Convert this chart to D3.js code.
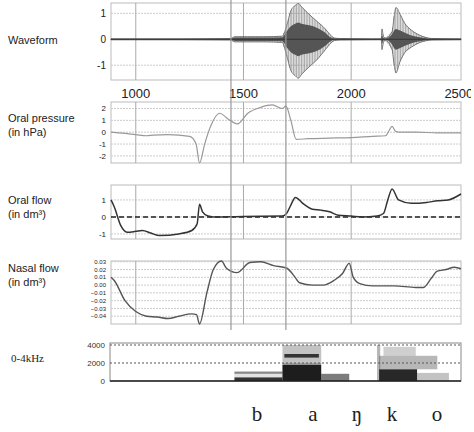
<!DOCTYPE html>
<html><head><meta charset="utf-8">
<script src="https://cdn.jsdelivr.net/npm/d3@7"></script>
<style>body{margin:0;background:#fff}svg{display:block}</style>
</head><body><svg id="c" width="474" height="432"></svg>
<script>
// time axis (ms)
const timeTicks = [1000, 1500, 2000, 2500];
const cursorTimes = [1442, 1697];

// waveform envelope: time, outer amplitude (top), outer amplitude (bottom), dense core amplitude
const waveTime  = [885,1000,1200,1440,1460,1600,1680,1700,1720,1740,1755,1770,1800,1840,1880,1900,1921,1950,2100,2140,2143,2150,2160,2190,2200,2208,2225,2250,2280,2320,2375,2510];
const waveTop   = [0.02,0.02,0.02,0.03,0.1,0.1,0.12,0.5,1.1,1.3,1.38,1.25,1.0,0.7,0.4,0.2,0.05,0.03,0.02,0.02,0.4,0.1,0.05,0.3,0.9,1.23,1.0,0.6,0.35,0.15,0.03,0.02];
const waveBot   = [0.02,0.02,0.02,0.03,0.1,0.1,0.12,0.6,1.2,1.4,1.5,1.35,1.1,0.8,0.4,0.2,0.05,0.03,0.02,0.02,0.4,0.1,0.05,0.4,1.0,1.3,0.9,0.5,0.3,0.12,0.03,0.02];
const waveCore  = [0.01,0.01,0.01,0.02,0.07,0.07,0.08,0.3,0.5,0.6,0.65,0.6,0.55,0.45,0.25,0.1,0.03,0.02,0.01,0.01,0.15,0.05,0.03,0.2,0.35,0.4,0.35,0.25,0.15,0.08,0.02,0.01];

// oral pressure (hPa)
const presTime = [885,1000,1050,1080,1150,1250,1280,1296,1320,1350,1389,1430,1472,1520,1580,1634,1680,1697,1720,1745,1800,1900,2000,2100,2160,2175,2190,2205,2220,2300,2400,2510];
const presVal  = [0,-0.2,-0.3,-0.25,-0.2,-0.35,-1.0,-2.6,-1.0,0.6,1.6,1.1,0.7,1.6,2.1,2.3,2.0,2.2,1.0,-0.6,-0.55,-0.5,-0.45,-0.35,-0.3,0.1,0.5,0.1,0,0,-0.05,-0.05];

// oral flow (dm3)
const oralTime = [885,900,930,960,1000,1030,1070,1110,1200,1260,1285,1296,1310,1335,1360,1500,1680,1700,1720,1741,1780,1820,1860,1900,1940,2000,2050,2120,2150,2170,2190,2220,2280,2350,2400,2450,2510];
const oralVal  = [1.0,0.6,-0.5,-0.9,-0.85,-0.8,-0.95,-1.1,-1.0,-0.8,-0.4,0.75,0.3,0.05,0,0.03,0.05,0.2,0.7,1.15,0.75,0.45,0.4,0.3,0.1,0.05,0,0.05,0.2,1.0,1.65,1.0,0.8,0.85,0.95,1.0,1.35];

// nasal flow (dm3)
const nasTime = [885,900,950,1000,1050,1100,1150,1200,1260,1282,1296,1330,1360,1398,1420,1470,1530,1580,1640,1700,1740,1760,1820,1870,1920,1960,1991,2010,2040,2100,2200,2300,2335,2370,2400,2440,2480,2510];
const nasVal  = [0.01,0.006,-0.02,-0.034,-0.04,-0.041,-0.043,-0.04,-0.037,-0.038,-0.05,-0.01,0.02,0.031,0.022,0.016,0.029,0.03,0.025,0.022,0.01,0.003,0.0,0.0,0.006,0.015,0.028,0.01,0.002,-0.001,-0.001,-0.003,-0.003,0.008,0.018,0.02,0.023,0.021];

// spectrogram blocks: start, end, low Hz, high Hz, darkness
const specBlocks = [
  [1458,1681,0,400,0.85],[1458,1681,800,1050,0.5],[1458,1681,400,800,0.12],
  [1681,1861,0,1800,0.95],[1690,1850,2600,3000,0.8],[1681,1861,2000,4000,0.25],[1681,1861,1800,2000,0.4],
  [1861,1991,0,800,0.55],
  [2120,2135,0,4000,0.3],[2130,2306,0,1300,0.9],[2130,2400,1300,2800,0.3],[2150,2300,2800,3800,0.2],[2306,2454,0,900,0.25]
];
const specTicks = [0, 2000, 4000];

const phonemes = ["b","a","ŋ","k","o"];
const phonemeX = [257,313,357,392,437];

const svg = d3.select("#c");
const x = d3.scaleLinear().domain([885, 2510]).range([111, 461]);
const sans = "Liberation Sans, Arial, sans-serif";
const serif = "Liberation Serif, Times New Roman, serif";

function panel(top, bottom, domain, ticks, fmt, fs) {
  const y = d3.scaleLinear().domain(domain).range([bottom, top]);
  const g = svg.append("g");
  g.append("rect").attr("x", 111).attr("y", top).attr("width", 350).attr("height", bottom - top)
    .attr("fill", "#fff").attr("stroke", "#bbb");
  g.selectAll(".h").data(ticks).join("line")
    .attr("x1", 111).attr("x2", 461).attr("y1", y).attr("y2", y)
    .attr("stroke", "#ccc").attr("stroke-dasharray", "2,1");
  g.selectAll(".v").data(timeTicks.slice(0, 3)).join("line")
    .attr("x1", x).attr("x2", x).attr("y1", top).attr("y2", bottom)
    .attr("stroke", "#aaa");
  g.selectAll(".t").data(ticks).join("text")
    .attr("x", 106).attr("y", d => y(d) + fs * 0.35).attr("text-anchor", "end")
    .attr("font-family", sans).attr("font-size", fs).attr("fill", "#222").text(fmt);
  return y;
}

// waveform
const yW = panel(3, 80, [-1.57, 1.4], [-1, 0, 1], d => d, 10);
const wIdx = d3.range(waveTime.length);
svg.append("path").attr("fill", "none").attr("stroke", "#555").attr("stroke-width", 0.8)
  .attr("d", d3.area().x(i => x(waveTime[i])).y0(i => yW(-waveBot[i])).y1(i => yW(waveTop[i])).curve(d3.curveMonotoneX)(wIdx));
// hatched outer envelope
const hatchT = d3.range(x(885), x(2510), 1.6).map(p => x.invert(p));
const interp = (arr, t) => { const i = d3.bisectRight(waveTime, t) - 1; const j = Math.min(i + 1, waveTime.length - 1);
  const f = j === i ? 0 : (t - waveTime[i]) / (waveTime[j] - waveTime[i]); return arr[i] + (arr[j] - arr[i]) * f; };
svg.append("g").selectAll("line").data(hatchT).join("line")
  .attr("x1", x).attr("x2", x).attr("y1", t => yW(interp(waveTop, t))).attr("y2", t => yW(-interp(waveBot, t)))
  .attr("stroke", "#666").attr("stroke-width", 0.6);
svg.append("path").attr("fill", "#555")
  .attr("d", d3.area().x(i => x(waveTime[i])).y0(i => yW(-waveCore[i])).y1(i => yW(waveCore[i])).curve(d3.curveMonotoneX)(wIdx));
svg.append("line").attr("x1", 111).attr("x2", 461).attr("y1", yW(0)).attr("y2", yW(0)).attr("stroke", "#333");

// time tick labels
const clip = svg.append("clipPath").attr("id", "cl").append("rect").attr("x", 0).attr("y", 0).attr("width", 471).attr("height", 432);
svg.append("g").attr("clip-path", "url(#cl)").selectAll("text").data(timeTicks).join("text")
  .attr("x", x).attr("y", 98).attr("text-anchor", "middle").attr("font-family", sans).attr("font-size", 13).attr("fill", "#222").text(d => d);

// oral pressure
const yP = panel(102, 163, [-2.6, 2.55], [-2, -1, 0, 1, 2], d => d, 8);
svg.append("path").attr("fill", "none").attr("stroke", "#999").attr("stroke-width", 1.2)
  .attr("d", d3.line().x((d, i) => x(presTime[i])).y(d => yP(d)).curve(d3.curveMonotoneX)(presVal));

// oral flow
const yO = panel(185, 239, [-1.3, 1.88], [-1, 0, 1], d => d, 8);
svg.append("line").attr("x1", 111).attr("x2", 461).attr("y1", yO(0)).attr("y2", yO(0))
  .attr("stroke", "#222").attr("stroke-width", 1.5).attr("stroke-dasharray", "5,3");
svg.append("path").attr("fill", "none").attr("stroke", "#333").attr("stroke-width", 1.5)
  .attr("d", d3.line().x((d, i) => x(oralTime[i])).y(d => yO(d)).curve(d3.curveMonotoneX)(oralVal));

// nasal flow
const yN = panel(261, 324, [-0.05, 0.031], [-0.04, -0.03, -0.02, -0.01, 0, 0.01, 0.02, 0.03], d => d3.format(".2f")(d).replace("0.", "0.").replace("-0.", "-0."), 6);
svg.append("path").attr("fill", "none").attr("stroke", "#555").attr("stroke-width", 1.4)
  .attr("d", d3.line().x((d, i) => x(nasTime[i])).y(d => yN(d)).curve(d3.curveMonotoneX)(nasVal));

// cursor lines
svg.selectAll(".cur").data(cursorTimes).join("line")
  .attr("x1", x).attr("x2", x).attr("y1", 0).attr("y2", 330).attr("stroke", "#999").attr("stroke-width", 1.2);

// spectrogram
const yS = d3.scaleLinear().domain([0, 4000]).range([381, 345]);
svg.append("rect").attr("x", 110).attr("y", 343).attr("width", 351).attr("height", 38).attr("fill", "#fff").attr("stroke", "#888");
svg.selectAll(".sb").data(specBlocks).join("rect")
  .attr("x", d => x(d[0])).attr("width", d => x(d[1]) - x(d[0]))
  .attr("y", d => yS(d[3])).attr("height", d => yS(d[2]) - yS(d[3]))
  .attr("fill", "#111").attr("fill-opacity", d => d[4]);
svg.selectAll(".sg").data([2000, 4000]).join("line")
  .attr("x1", 110).attr("x2", 461).attr("y1", yS).attr("y2", yS)
  .attr("stroke", "#555").attr("stroke-dasharray", "2,2");
svg.append("line").attr("x1", 110).attr("x2", 461).attr("y1", 381).attr("y2", 381).attr("stroke", "#222").attr("stroke-width", 1.5);
svg.selectAll(".st").data(specTicks).join("text")
  .attr("x", 105).attr("y", d => yS(d) + 3).attr("text-anchor", "end")
  .attr("font-family", sans).attr("font-size", 8).attr("fill", "#333").text(d => d);

// panel labels
const labels = [["Waveform", 44], ["Oral pressure", 122], ["(in hPa)", 136], ["Oral flow", 204], ["(in dm³)", 218], ["Nasal flow", 272], ["(in dm³)", 286]];
svg.selectAll(".lab").data(labels).join("text")
  .attr("x", 8).attr("y", d => d[1]).attr("font-family", sans).attr("font-size", 11).attr("fill", "#222").text(d => d[0]);
svg.append("text").attr("x", 11).attr("y", 362).attr("font-family", serif).attr("font-size", 11).attr("fill", "#222").text("0-4kHz");

// phoneme labels
svg.selectAll(".ph").data(phonemes).join("text")
  .attr("x", (d, i) => phonemeX[i]).attr("y", 421).attr("text-anchor", "middle")
  .attr("font-family", serif).attr("font-size", 21).attr("fill", "#222").text(d => d);
</script></body></html>
